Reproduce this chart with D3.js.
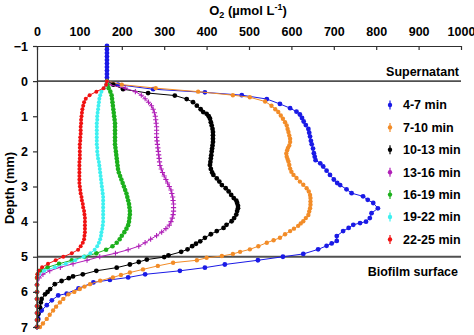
<!DOCTYPE html>
<html>
<head>
<meta charset="utf-8">
<script src="https://cdn.jsdelivr.net/npm/d3@7"></script>
<style>
  body { margin: 0; background: #fff; }
  svg { font-family: "Liberation Sans", Arial, sans-serif; font-weight: bold; }
</style>
</head>
<body>
<svg id="chart" width="474" height="335"></svg>
<script>
// axis ticks
const xTicks = [0, 100, 200, 300, 400, 500, 600, 700, 800, 900, 1000];
const yTicks = [-1, 0, 1, 2, 3, 4, 5, 6, 7];

const seriesNames = ["4-7 min", "7-10 min", "10-13 min", "13-16 min", "16-19 min", "19-22 min", "22-25 min"];
const seriesColors = ["#1a1ae6", "#f28c28", "#000000", "#b020b8", "#1cb01c", "#3ef0f0", "#f01212"];

// [depth mm, O2 umol/L]
const blue = [
  [-1, 165], [-0.9, 165], [-0.8, 165], [-0.7, 165], [-0.6, 165], [-0.5, 165], [-0.4, 165],
  [-0.3, 165], [-0.2, 165], [-0.1, 165], [0, 165],
  [0.1, 191], [0.23, 274], [0.32, 396], [0.4, 483], [0.51, 542], [0.65, 573], [0.77, 597],
  [0.87, 612], [0.95, 620], [1.05, 625], [1.15, 629], [1.25, 634], [1.36, 640], [1.47, 642],
  [1.58, 644], [1.7, 646], [1.8, 648], [1.92, 651], [2.05, 653], [2.15, 655], [2.25, 657],
  [2.34, 668], [2.43, 675], [2.55, 683], [2.67, 691], [2.8, 700], [2.9, 708], [2.96, 715],
  [3.08, 730], [3.19, 742], [3.28, 769], [3.38, 780], [3.47, 793], [3.62, 804], [3.76, 789],
  [3.9, 785], [4.0, 776], [4.04, 762], [4.09, 746], [4.18, 735], [4.27, 722], [4.41, 707],
  [4.55, 707], [4.62, 695], [4.69, 683], [4.79, 663], [4.92, 628], [5.0, 580], [5.1, 521],
  [5.22, 443], [5.31, 396], [5.4, 337], [5.5, 255], [5.59, 215], [5.66, 172], [5.73, 133],
  [5.9, 98], [6.05, 70], [6.1, 50], [6.24, 35], [6.38, 23], [6.53, 11], [6.77, 3], [7.0, 0]
];

const orange = [
  [0, 165], [0.1, 200], [0.2, 280], [0.3, 380], [0.4, 462], [0.46, 502], [0.58, 538],
  [0.7, 553], [0.8, 562], [0.88, 569], [0.98, 575], [1.07, 580], [1.17, 585], [1.26, 589],
  [1.36, 591], [1.45, 593], [1.55, 595], [1.64, 597], [1.73, 597], [1.83, 595], [1.9, 592],
  [1.97, 590], [2.06, 588], [2.15, 589], [2.22, 591], [2.29, 593], [2.39, 595], [2.49, 597],
  [2.58, 600], [2.67, 605], [2.76, 612], [2.86, 620], [2.95, 628], [3.05, 636], [3.14, 641],
  [3.24, 644], [3.33, 645], [3.43, 645], [3.52, 645], [3.62, 644], [3.71, 642], [3.81, 640],
  [3.9, 634], [3.99, 628], [4.05, 622], [4.12, 616], [4.2, 606], [4.27, 597], [4.36, 585],
  [4.46, 573], [4.53, 558], [4.6, 542], [4.7, 522], [4.79, 502], [4.86, 479], [4.92, 462],
  [4.98, 436], [5.03, 400], [5.1, 377], [5.17, 321], [5.26, 285], [5.36, 250], [5.45, 219],
  [5.52, 198], [5.59, 179], [5.68, 149], [5.78, 125], [5.85, 112], [5.92, 101], [6.0, 88],
  [6.07, 74], [6.2, 62], [6.3, 54], [6.42, 45], [6.53, 38], [6.65, 30], [6.77, 23],
  [6.9, 14], [7.0, 7]
];

const black = [
  [0, 165], [0.1, 180], [0.23, 203], [0.34, 262], [0.41, 325], [0.51, 353], [0.6, 368],
  [0.7, 377], [0.8, 386], [0.88, 392], [0.93, 400], [1.0, 405], [1.07, 408], [1.17, 410],
  [1.26, 412], [1.36, 414], [1.45, 415], [1.54, 415], [1.64, 415], [1.73, 415], [1.83, 414],
  [1.92, 413], [2.0, 412], [2.11, 411], [2.2, 410], [2.3, 409], [2.39, 408], [2.5, 410],
  [2.6, 413], [2.67, 416], [2.77, 424], [2.86, 430], [2.96, 436], [3.05, 445], [3.14, 452],
  [3.24, 458], [3.33, 464], [3.4, 470], [3.47, 472], [3.55, 474], [3.62, 474], [3.7, 472],
  [3.8, 470], [3.9, 465], [3.99, 459], [4.09, 447], [4.18, 440], [4.27, 424], [4.36, 410],
  [4.46, 396], [4.56, 385], [4.63, 375], [4.7, 366], [4.79, 355], [4.86, 340], [4.96, 310],
  [5.01, 300], [5.08, 259], [5.15, 240], [5.22, 219], [5.31, 188], [5.4, 140], [5.5, 108],
  [5.56, 85], [5.61, 75], [5.69, 58], [5.78, 42], [5.92, 31], [6.0, 25], [6.07, 19],
  [6.2, 11], [6.3, 9], [6.44, 7], [6.63, 3], [6.8, 2], [7.0, 0]
];

// densely sampled profiles share one depth grid
const fineDepth = [
  0, 0.1, 0.2, 0.3, 0.4, 0.5, 0.6, 0.7, 0.8, 0.9,
  1.0, 1.1, 1.2, 1.3, 1.4, 1.5, 1.6, 1.7, 1.8, 1.9,
  2.0, 2.1, 2.2, 2.3, 2.4, 2.5, 2.6, 2.7, 2.8, 2.9,
  3.0, 3.1, 3.2, 3.3, 3.4, 3.5, 3.6, 3.7, 3.8, 3.9,
  4.0, 4.1, 4.2, 4.3, 4.4, 4.5, 4.6, 4.7, 4.8, 4.9,
  5.0, 5.1, 5.2, 5.3, 5.4, 5.5, 5.6,
  5.8, 6.0, 6.2, 6.4, 6.6, 6.8, 7.0
];

const purple = [
  165, 170, 208, 232, 246, 255, 263, 270, 274, 277,
  279, 280, 281, 282, 282, 282, 282, 283, 284, 285,
  286, 287, 288, 289, 290, 293, 296, 300, 304, 308,
  312, 316, 318, 320, 321, 322, 322, 322, 321, 319,
  316, 312, 304, 294, 282, 268, 255, 240, 215, 185,
  148, 118, 85, 55, 30, 14, 5,
  0, 0, 0, 0, 0, 0, 0
];

const green = [
  165, 166, 169, 173, 176, 177, 178, 179, 180, 181,
  182, 183, 184, 184, 184, 184, 184, 184, 184, 185,
  186, 187, 188, 189, 190, 191, 193, 196, 199, 202,
  205, 208, 211, 213, 215, 217, 218, 219, 219, 218,
  217, 215, 211, 206, 200, 195, 188, 178, 163, 140,
  112, 82, 52, 25, 7, 2, 0,
  0, 0, 0, 0, 0, 0, 0
];

const cyan = [
  165, 163, 158, 152, 149, 147, 146, 145, 144, 143,
  142, 142, 141, 141, 141, 141, 141, 141, 141, 142,
  142, 143, 144, 146, 147, 148, 149, 150, 151, 152,
  153, 154, 155, 156, 156, 156, 156, 156, 156, 156,
  156, 155, 154, 152, 151, 149, 146, 142, 136, 126,
  110, 90, 68, 42, 17, 5, 1,
  0, 0, 0, 0, 0, 0, 0
];

const red = [
  165, 163, 157, 140, 124, 115, 111, 109, 107, 106,
  105, 104, 104, 103, 103, 103, 102, 102, 101, 101,
  101, 101, 101, 100, 100, 100, 100, 100, 100, 100,
  101, 102, 103, 105, 106, 108, 109, 111, 112, 113,
  113, 113, 113, 113, 112, 111, 108, 103, 97, 82,
  62, 44, 26, 12, 4, 1, 0,
  0, 0, 0, 0, 0, 0, 0
];

const fine = vals => vals.map((v, i) => [fineDepth[i], v]);

const series = [
  { name: seriesNames[0], color: seriesColors[0], pts: blue, marker: "circle", r: 2.4 },
  { name: seriesNames[1], color: seriesColors[1], pts: orange, marker: "circle", r: 2.2 },
  { name: seriesNames[2], color: seriesColors[2], pts: black, marker: "circle", r: 2.4 },
  { name: seriesNames[3], color: seriesColors[3], pts: fine(purple), marker: "plus", r: 2.6 },
  { name: seriesNames[4], color: seriesColors[4], pts: fine(green), marker: "circle", r: 2.3 },
  { name: seriesNames[5], color: seriesColors[5], pts: fine(cyan), marker: "circle", r: 2.0 },
  { name: seriesNames[6], color: seriesColors[6], pts: fine(red), marker: "circle", r: 2.0 }
];

const svg = d3.select("#chart");

const x = d3.scaleLinear().domain([0, 1000]).range([37, 461]);
const y = d3.scaleLinear().domain([-1, 7]).range([46, 327]);

// reference lines: supernatant / biofilm surface
svg.append("g").selectAll("line").data([0, 5])
  .join("line")
  .attr("x1", x(0))
  .attr("x2", x(1000))
  .attr("y1", d => y(d))
  .attr("y2", d => y(d))
  .attr("stroke", "#505050")
  .attr("stroke-width", 1.8);

// curves
const line = d3.line()
  .x(d => x(d[1]))
  .y(d => y(d[0]));

const curves = svg.append("g").selectAll("g").data(series).join("g");

curves.append("path")
  .attr("d", s => line(s.pts))
  .attr("fill", "none")
  .attr("stroke", s => s.color)
  .attr("stroke-width", 1);

curves.each(function(s) {
  const g = d3.select(this);
  if (s.marker === "plus") {
    g.selectAll(".mk").data(s.pts)
      .join("path")
      .attr("class", "mk")
      .attr("d", d => `M${x(d[1]) - s.r},${y(d[0])}H${x(d[1]) + s.r}M${x(d[1])},${y(d[0]) - s.r}V${y(d[0]) + s.r}`)
      .attr("stroke", s.color)
      .attr("stroke-width", 1.1);
  } else {
    g.selectAll(".mk").data(s.pts)
      .join("circle")
      .attr("class", "mk")
      .attr("cx", d => x(d[1]))
      .attr("cy", d => y(d[0]))
      .attr("r", s.r)
      .attr("fill", s.color);
  }
});

// axes
const xAxis = svg.append("g")
  .attr("transform", `translate(0,${y(-1)})`)
  .call(d3.axisTop(x).tickValues(xTicks).tickFormat(d3.format("d"))
    .tickSizeInner(-4).tickSizeOuter(0).tickPadding(10));

const yAxis = svg.append("g")
  .attr("transform", `translate(${x(0)},0)`)
  .call(d3.axisLeft(y).tickValues(yTicks).tickFormat(d3.format("d"))
    .tickSizeInner(4).tickSizeOuter(0).tickPadding(5));

[xAxis, yAxis].forEach(a => {
  a.selectAll("path, line").attr("stroke", "#303030").attr("stroke-width", 1.2);
  a.selectAll("text")
    .attr("fill", "#000")
    .style("font-size", "12.5px")
    .style("font-weight", "bold")
    .style("font-family", "'Liberation Sans', Arial, sans-serif");
});

// titles
const title = svg.append("text")
  .attr("x", 248)
  .attr("y", 15)
  .attr("text-anchor", "middle")
  .style("font-size", "13px");
title.append("tspan").text("O");
title.append("tspan").attr("dy", 3).style("font-size", "9px").text("2");
title.append("tspan").attr("dy", -3).text(" (\u00b5mol L");
title.append("tspan").attr("dy", -5).style("font-size", "9px").text("-1");
title.append("tspan").attr("dy", 5).text(")");

svg.append("text")
  .attr("transform", "translate(14,188) rotate(-90)")
  .attr("text-anchor", "middle")
  .style("font-size", "13px")
  .text("Depth (mm)");

svg.append("text")
  .attr("x", 459)
  .attr("y", 76)
  .attr("text-anchor", "end")
  .style("font-size", "12.5px")
  .text("Supernatant");

svg.append("text")
  .attr("x", 458)
  .attr("y", 276)
  .attr("text-anchor", "end")
  .style("font-size", "12.5px")
  .text("Biofilm surface");

// legend
const legend = svg.append("g").selectAll("g").data(series)
  .join("g")
  .attr("transform", (s, i) => `translate(390,${105 + i * 22.4})`);

legend.append("line")
  .attr("y1", -4.5)
  .attr("y2", 4.5)
  .attr("stroke", s => s.color)
  .attr("stroke-width", 1.2);

legend.append("circle")
  .attr("r", 2.2)
  .attr("fill", s => s.color);

legend.append("text")
  .attr("x", 13)
  .attr("dy", "0.35em")
  .style("font-size", "12.5px")
  .text(s => s.name);
</script>
</body>
</html>
